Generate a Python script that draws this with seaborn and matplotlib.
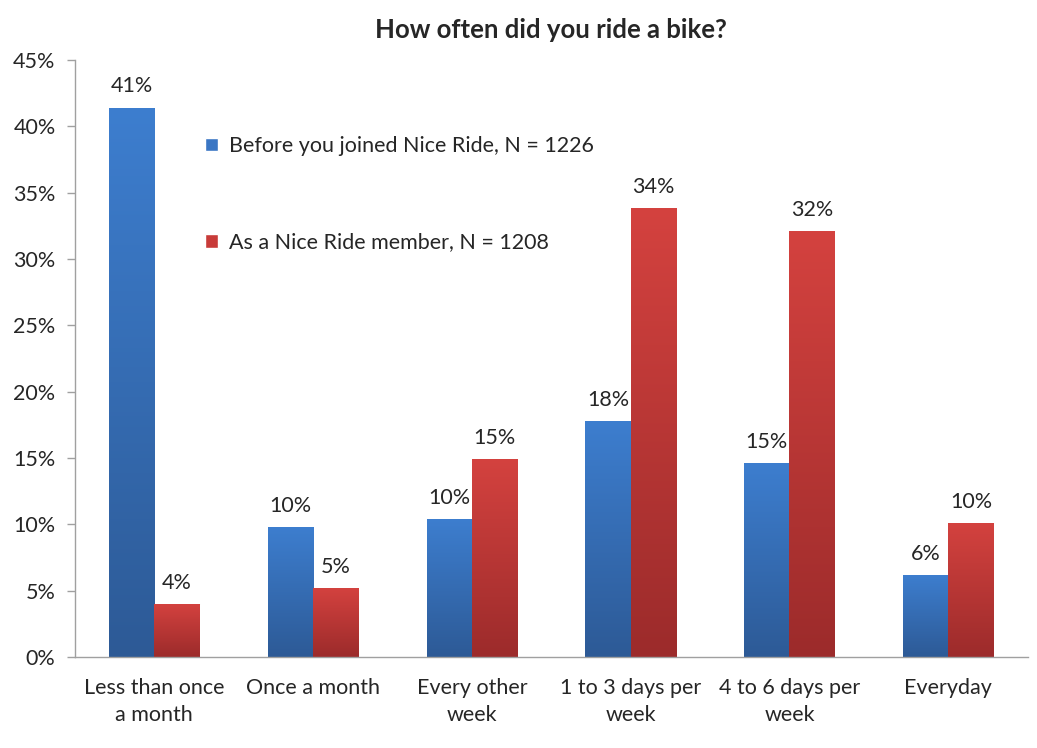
import matplotlib
matplotlib.use("Agg")
import matplotlib.pyplot as plt
import matplotlib.colors as mcolors
import numpy as np
import pandas as pd
import seaborn as sns

# datos
categorias = ["Less than once\na month", "Once a month", "Every other\nweek",
              "1 to 3 days per\nweek", "4 to 6 days per\nweek", "Everyday"]
antes = [41.4, 9.8, 10.4, 17.8, 14.6, 6.2]
miembro = [4.0, 5.2, 14.9, 33.8, 32.1, 10.1]
serie_antes = "Before you joined Nice Ride, N = 1226"
serie_miembro = "As a Nice Ride member, N = 1208"

df = pd.DataFrame({
    "categoria": categorias * 2,
    "valor": antes + miembro,
    "serie": [serie_antes] * len(antes) + [serie_miembro] * len(miembro),
})

sns.set_style("white")
plt.rcParams["font.family"] = ["Lato", "DejaVu Sans"]
tam = 15.5

fig = plt.figure(figsize=(10.37, 7.48), dpi=100)
ax = fig.add_axes([0.0723, 0.1217, 0.9187, 0.7983])

colores = {serie_antes: "#3a76c4", serie_miembro: "#c83b39"}
sns.barplot(data=df, x="categoria", y="valor", hue="serie", palette=colores,
            width=0.57, gap=0, ax=ax, legend=True, saturation=1)

# degradado vertical como en Excel
gradientes = {
    serie_antes: ("#3d7ecf", "#2d5a96"),
    serie_miembro: ("#d4423f", "#9c2b2b"),
}
for cont, serie in zip(ax.containers, [serie_antes, serie_miembro]):
    cmap = mcolors.LinearSegmentedColormap.from_list("g", [gradientes[serie][1], gradientes[serie][0]])
    for barra in cont:
        x0, y0 = barra.get_x(), barra.get_y()
        w, h = barra.get_width(), barra.get_height()
        img = ax.imshow(np.linspace(0, 1, 256).reshape(-1, 1), cmap=cmap, origin="lower",
                        extent=[x0, x0 + w, y0, y0 + h], aspect="auto", zorder=barra.get_zorder() + 0.1)
        img.set_clip_path(barra)
    ax.bar_label(cont, labels=[f"{v:.0f}%" for v in cont.datavalues], padding=8, fontsize=tam)

ax.set_xlim(-0.5, len(categorias) - 0.5)
ax.set_ylim(0, 45)
ax.set_yticks(np.arange(0, 46, 5))
ax.set_yticklabels([f"{t}%" for t in range(0, 46, 5)], fontsize=tam)
ax.set_xticks(range(len(categorias)))
ax.set_xticklabels(categorias, fontsize=tam, linespacing=1.45)
ax.set_xticks(np.arange(-0.5, len(categorias), 1), minor=True)
ax.tick_params(axis="x", which="major", length=0, pad=15)
ax.tick_params(axis="x", which="minor", length=8, color="#a0a0a0", width=1)
ax.tick_params(axis="y", length=6, color="#a0a0a0", width=1, left=True, pad=8)
ax.set_xlabel("")
ax.set_ylabel("")

for lado in ["top", "right"]:
    ax.spines[lado].set_visible(False)
for lado in ["left", "bottom"]:
    ax.spines[lado].set_color("#a0a0a0")
    ax.spines[lado].set_linewidth(1)

ax.set_title("How often did you ride a bike?", fontsize=18.5, fontweight="bold", pad=16)

ax.legend(loc="upper left", bbox_to_anchor=(0.116, 0.905), frameon=False, fontsize=tam,
          labelspacing=3.55, handlelength=0.6, handleheight=0.6, handletextpad=0.5)

fig.savefig("out.png", dpi=100)
